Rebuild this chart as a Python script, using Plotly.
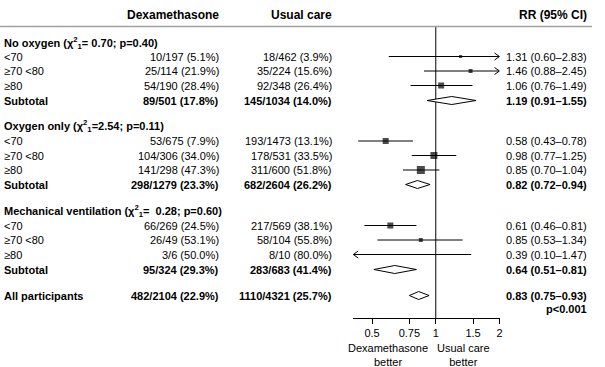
import math
import plotly.graph_objects as go

W, H = 605, 367

# ---------------- data ----------------
group_titles = [
    "No oxygen (χ<sup>2</sup><sub>1</sub>= 0.70; p=0.40)",
    "Oxygen only (χ<sup>2</sup><sub>1</sub>=2.54; p=0.11)",
    "Mechanical ventilation (χ<sup>2</sup><sub>1</sub>=  0.28; p=0.60)",
]
row_labels = ["<70", "≥70 <80", "≥80", "Subtotal",
              "<70", "≥70 <80", "≥80", "Subtotal",
              "<70", "≥70 <80", "≥80", "Subtotal",
              "All participants"]
row_kind = ["row", "row", "row", "sub",
            "row", "row", "row", "sub",
            "row", "row", "row", "sub",
            "all"]
dex_events = [10, 25, 54, 89, 53, 104, 141, 298, 66, 26, 3, 95, 482]
dex_totals = [197, 114, 190, 501, 675, 306, 298, 1279, 269, 49, 6, 324, 2104]
usual_events = [18, 35, 92, 145, 193, 178, 311, 682, 217, 58, 8, 283, 1110]
usual_totals = [462, 224, 348, 1034, 1473, 531, 600, 2604, 569, 104, 10, 683, 4321]
rr = [1.31, 1.46, 1.06, 1.19, 0.58, 0.98, 0.85, 0.82, 0.61, 0.85, 0.39, 0.64, 0.83]
ci_low = [0.60, 0.88, 0.76, 0.91, 0.43, 0.77, 0.70, 0.72, 0.46, 0.53, 0.10, 0.51, 0.75]
ci_high = [2.83, 2.45, 1.49, 1.55, 0.78, 1.25, 1.04, 0.94, 0.81, 1.34, 1.47, 0.81, 0.93]
box_weight = [2, 3, 5, 0, 5, 6, 7, 0, 5, 3, 4, 0, 0]
overall_p = "p<0.001"
tick_vals = [0.5, 0.75, 1, 1.5, 2]
tick_text = ["0.5", "0.75", "1", "1.5", "2"]

# ---------------- layout constants ----------------
FONT = "Liberation Sans, Arial, sans-serif"
X_MIN, X_MAX = 0.4075, 2.0
AX_L, AX_R, AX_BOTTOM = 355, 502, 318
header_y = 15
group_y = [43, 126, 211]
row_y = [56.5, 71, 85.5, 100.5, 141, 155.5, 170, 184.5, 225.5, 240, 254.5, 269.5, 295.5]
p_y = 309
COL_DEX_R, COL_USU_R, COL_RR_R = 222, 336, 592
px_per_log = (AX_R - AX_L) / (math.log10(X_MAX) - math.log10(X_MIN))


def px_shift(x, dpx):
    return x * 10 ** (dpx / px_per_log)


fig = go.Figure()

# reference line at RR = 1
fig.add_trace(go.Scatter(x=[1, 1], y=[27, AX_BOTTOM], mode="lines",
                         line=dict(color="black", width=1), hoverinfo="skip"))

sq_x, sq_y, sq_s = [], [], []
for i, k in enumerate(row_kind):
    y = row_y[i]
    if k == "row":
        lo = max(ci_low[i], X_MIN)
        hi = min(ci_high[i], X_MAX)
        fig.add_trace(go.Scatter(x=[lo, hi], y=[y, y], mode="lines",
                                 line=dict(color="black", width=1), hoverinfo="skip"))
        if ci_high[i] > X_MAX:
            fig.add_trace(go.Scatter(x=[px_shift(X_MAX, -5), X_MAX, px_shift(X_MAX, -5)],
                                     y=[y - 3.5, y, y + 3.5], mode="lines",
                                     line=dict(color="black", width=1), hoverinfo="skip"))
        if ci_low[i] < X_MIN:
            fig.add_trace(go.Scatter(x=[px_shift(X_MIN, 5), X_MIN, px_shift(X_MIN, 5)],
                                     y=[y - 3.5, y, y + 3.5], mode="lines",
                                     line=dict(color="black", width=1), hoverinfo="skip"))
        if X_MIN <= rr[i] <= X_MAX:
            sq_x.append(rr[i]); sq_y.append(y); sq_s.append(box_weight[i] + 1)
    else:
        fig.add_trace(go.Scatter(x=[ci_low[i], rr[i], ci_high[i], rr[i], ci_low[i]],
                                 y=[y, y - 4, y, y + 4, y], mode="lines",
                                 fill="toself", fillcolor="white",
                                 line=dict(color="black", width=1), hoverinfo="skip"))

fig.add_trace(go.Scatter(x=sq_x, y=sq_y, mode="markers",
                         marker=dict(symbol="square", color="black", size=sq_s,
                                     line=dict(width=0)), hoverinfo="skip"))

ann = []


def txt(x, y, s, anchor="left", bold=False, size=11, yref="y"):
    if bold:
        s = "<b>" + s + "</b>"
    ann.append(dict(x=x / W, xref="paper", y=y, yref=yref, text=s, showarrow=False,
                    xanchor=anchor, yanchor="middle",
                    font=dict(family=FONT, size=size, color="black")))


# column headers
txt(COL_DEX_R, header_y, "Dexamethasone", "right", True, 12)
txt(COL_USU_R, header_y, "Usual care", "right", True, 12)
txt(COL_RR_R, header_y, "RR (95% CI)", "right", True, 12)

for g, gy in enumerate(group_y):
    txt(2, gy, group_titles[g], "left", True)

for i, k in enumerate(row_kind):
    y = row_y[i]
    b = k != "row"
    txt(2, y, row_labels[i], "left", b)
    d = f"{dex_events[i]}/{dex_totals[i]} ({100 * dex_events[i] / dex_totals[i]:.1f}%)"
    u = f"{usual_events[i]}/{usual_totals[i]} ({100 * usual_events[i] / usual_totals[i]:.1f}%)"
    txt(COL_DEX_R, y, d, "right", b)
    txt(COL_USU_R, y, u, "right", b)
    r = f"{rr[i]:.2f} ({ci_low[i]:.2f}–{ci_high[i]:.2f})"
    txt(COL_RR_R, y, r, "right", b)

txt(COL_RR_R, p_y, overall_p, "right", True)

# direction labels below the axis
for cx, lab in [(390, "Dexamethasone<br>better"), (466, "Usual care<br>better")]:
    ann.append(dict(x=cx / W, xref="paper", y=(H - 355) / H, yref="paper", text=lab,
                    showarrow=False, xanchor="center", yanchor="middle", align="center",
                    font=dict(family=FONT, size=11, color="black")))

fig.update_layout(
    width=W, height=H,
    margin=dict(l=0, r=0, t=0, b=0),
    paper_bgcolor="white", plot_bgcolor="white",
    showlegend=False,
    annotations=ann,
    shapes=[dict(type="line", xref="paper", yref="paper", x0=0, x1=595 / W,
                 y0=(H - 26.5) / H, y1=(H - 26.5) / H,
                 line=dict(color="#a0a0a0", width=1.5))],
    xaxis=dict(type="log", domain=[AX_L / W, AX_R / W],
               range=[math.log10(X_MIN), math.log10(X_MAX)],
               showgrid=False, zeroline=False, showline=True, linecolor="black",
               linewidth=1, ticks="outside", ticklen=5, tickcolor="black",
               tickvals=tick_vals, ticktext=tick_text,
               tickfont=dict(family=FONT, size=11, color="black")),
    yaxis=dict(domain=[(H - AX_BOTTOM) / H, 1], range=[AX_BOTTOM, 0],
               visible=False, showgrid=False, zeroline=False),
)

fig.write_html(
    "out.html",
    config={"displayModeBar": False},
    post_script="document.body.style.margin='0';document.body.style.overflow='hidden';",
)
